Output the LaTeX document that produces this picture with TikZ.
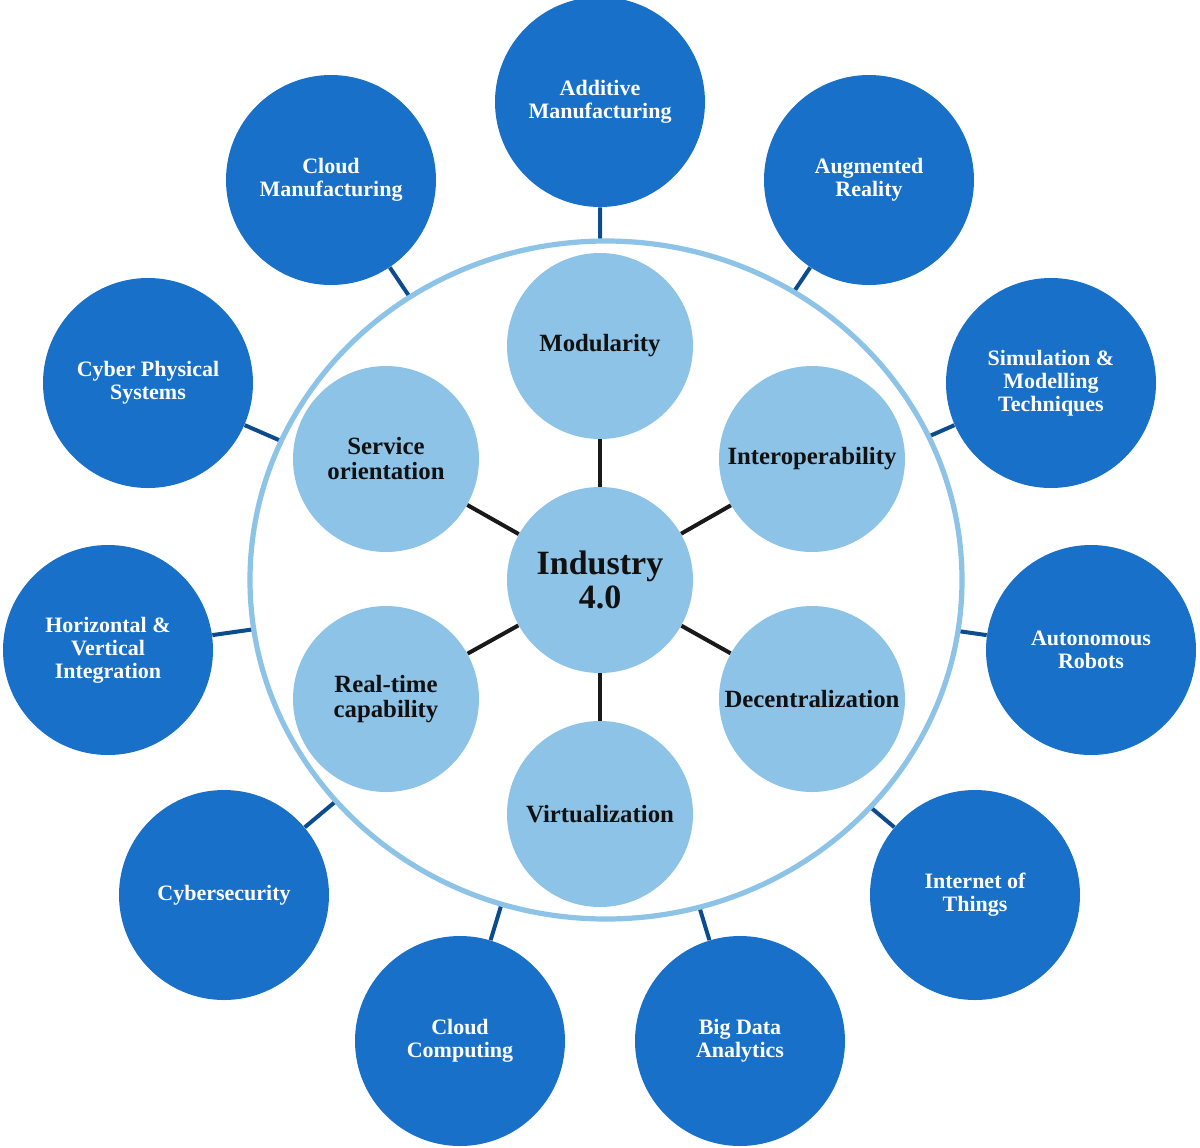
\documentclass[tikz,border=0pt]{standalone}
\usepackage{fontspec}
\setmainfont{Liberation Serif}
\usetikzlibrary{intersections}
\definecolor{darkblue}{HTML}{1870C8}
\definecolor{lightblue}{HTML}{8DC3E7}
\definecolor{connblue}{HTML}{0D4C8C}
\definecolor{inktext}{HTML}{111111}
\begin{document}
\begin{tikzpicture}[x=0.5pt,y=-0.5pt,
  outer/.style={circle, fill=darkblue, minimum size=105pt, inner sep=0pt, text=white, align=center, font=\bfseries\fontsize{11}{11.5}\selectfont},
  innerc/.style={circle, fill=lightblue, minimum size=93pt, inner sep=0pt, text=inktext, align=center, font=\bfseries\fontsize{12.4}{12.5}\selectfont},
  hub/.style={innerc, font=\bfseries\fontsize{17}{17}\selectfont},
  spoke/.style={line width=2pt, black!90},
  link/.style={line width=2pt, connblue},
  ringline/.style={line width=2.6pt, lightblue}]
\useasboundingbox (0,0) rectangle (1200,1147);
\coordinate (rc) at (606,580);
\coordinate (aim) at (600,580);
\path[name path=ring] (rc) ellipse [x radius=178pt, y radius=169.5pt];

% outer circles
\foreach \n/\x/\y/\t in {
  am/600/102/{Additive\\Manufacturing},
  ar/869/180/{Augmented\\Reality},
  cm/331/180/{Cloud\\Manufacturing},
  cps/148/383/{Cyber Physical\\Systems},
  smt/1051/383/{Simulation \&\\Modelling\\Techniques},
  hvi/108/650/{Horizontal \&\\Vertical\\Integration},
  aro/1091/650/{Autonomous\\Robots},
  cs/224/895/{Cybersecurity},
  iot/975/895/{Internet of\\Things},
  cc/460/1041/{Cloud\\Computing},
  bda/740/1041/{Big Data\\Analytics}}
  {\node[outer] (\n) at (\x,\y) {\t};}

% connectors from ring to outer circles
\foreach \n in {am,ar,cm,cps,smt,hvi,aro,cs,iot,cc,bda}{
  \path[name path=l\n] (\n.center) -- (aim);
  \draw[link, name intersections={of=ring and l\n, by=x\n}] (\n) -- (x\n);
}

\draw[ringline] (rc) ellipse [x radius=178pt, y radius=169.5pt];

% inner circles
\node[hub] (ind) at (600,580) {Industry\\4.0};
\node[innerc] (mod) at (600,346) {Modularity};
\node[innerc] (int) at (812,459) {Interoperability};
\node[innerc] (dec) at (812,699) {Decentralization};
\node[innerc] (vir) at (600,814) {Virtualization};
\node[innerc] (rtc) at (386,699) {Real-time\\capability};
\node[innerc] (so) at (386,459) {Service\\orientation};

\foreach \m in {mod,int,dec,vir,rtc,so}
  \draw[spoke] (ind) -- (\m);
\end{tikzpicture}
\end{document}
